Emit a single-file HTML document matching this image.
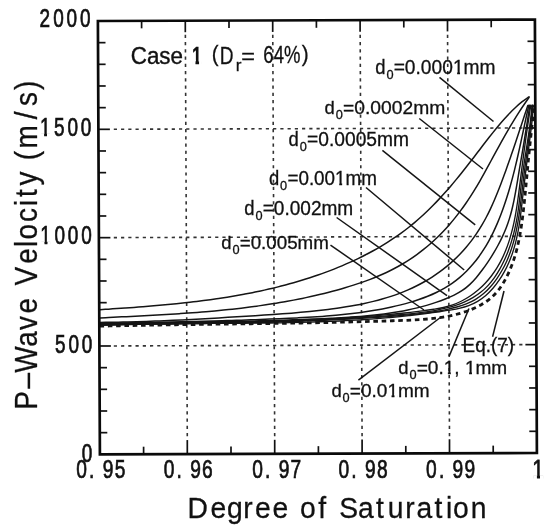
<!DOCTYPE html><html><head><meta charset="utf-8"><title>P-Wave Velocity vs Degree of Saturation</title>
<style>html,body{margin:0;padding:0;background:#fff;}svg{display:block;}text{font-family:"Liberation Sans",Arial,sans-serif;fill:#111;font-kerning:none;white-space:pre;}.title text{stroke:#111;stroke-width:0.3px;}.num text{stroke:#111;stroke-width:0.75px;}.lab text{stroke:#111;stroke-width:0.3px;}</style></head><body>
<svg width="550" height="529" viewBox="0 0 550 529">
<rect width="550" height="529" fill="#fff"/>
<line x1="113.8" y1="129.27" x2="524.4" y2="127.97" stroke="#333" stroke-width="1.6" stroke-dasharray="3.2 4.04" fill="none"/>
<line x1="113.8" y1="237.61" x2="524.9" y2="236.31" stroke="#333" stroke-width="1.6" stroke-dasharray="3.2 4.04" fill="none"/>
<line x1="113.8" y1="345.95" x2="525.4" y2="344.64" stroke="#333" stroke-width="1.6" stroke-dasharray="3.2 4.04" fill="none"/>
<line x1="185.37" y1="34.84" x2="187.3" y2="440.06" stroke="#333" stroke-width="1.6" stroke-dasharray="3.2 4.04" fill="none"/>
<line x1="272.77" y1="34.84" x2="274.7" y2="439.79" stroke="#333" stroke-width="1.6" stroke-dasharray="3.2 4.04" fill="none"/>
<line x1="360.17" y1="34.84" x2="362.1" y2="439.52" stroke="#333" stroke-width="1.6" stroke-dasharray="3.2 4.04" fill="none"/>
<line x1="447.57" y1="34.84" x2="449.5" y2="439.25" stroke="#333" stroke-width="1.6" stroke-dasharray="3.2 4.04" fill="none"/>
<g stroke="#111" stroke-width="1.7" fill="none"><line x1="98" y1="42.65" x2="105.5" y2="42.65"/><line x1="535" y1="41.3" x2="527.5" y2="41.3"/><line x1="98.1" y1="64.32" x2="105.6" y2="64.32"/><line x1="535.1" y1="62.97" x2="527.6" y2="62.97"/><line x1="98.2" y1="85.98" x2="105.7" y2="85.98"/><line x1="535.2" y1="84.63" x2="527.7" y2="84.63"/><line x1="98.3" y1="107.65" x2="105.8" y2="107.65"/><line x1="535.3" y1="106.3" x2="527.8" y2="106.3"/><line x1="98.4" y1="129.32" x2="109.9" y2="129.32"/><line x1="535.4" y1="127.97" x2="524.4" y2="127.97"/><line x1="98.5" y1="150.98" x2="106" y2="150.98"/><line x1="535.5" y1="149.63" x2="528" y2="149.63"/><line x1="98.6" y1="172.65" x2="106.1" y2="172.65"/><line x1="535.6" y1="171.3" x2="528.1" y2="171.3"/><line x1="98.7" y1="194.32" x2="106.2" y2="194.32"/><line x1="535.7" y1="192.97" x2="528.2" y2="192.97"/><line x1="98.8" y1="215.99" x2="106.3" y2="215.99"/><line x1="535.8" y1="214.64" x2="528.3" y2="214.64"/><line x1="98.9" y1="237.66" x2="110.4" y2="237.66"/><line x1="535.9" y1="236.31" x2="524.9" y2="236.31"/><line x1="99" y1="259.32" x2="106.5" y2="259.32"/><line x1="536" y1="257.97" x2="528.5" y2="257.97"/><line x1="99.1" y1="280.99" x2="106.6" y2="280.99"/><line x1="536.1" y1="279.64" x2="528.6" y2="279.64"/><line x1="99.2" y1="302.66" x2="106.7" y2="302.66"/><line x1="536.2" y1="301.31" x2="528.7" y2="301.31"/><line x1="99.3" y1="324.32" x2="106.8" y2="324.32"/><line x1="536.3" y1="322.97" x2="528.8" y2="322.97"/><line x1="99.4" y1="345.99" x2="110.9" y2="345.99"/><line x1="536.4" y1="344.64" x2="525.4" y2="344.64"/><line x1="99.5" y1="367.66" x2="107" y2="367.66"/><line x1="536.5" y1="366.31" x2="529" y2="366.31"/><line x1="99.6" y1="389.33" x2="107.1" y2="389.33"/><line x1="536.6" y1="387.98" x2="529.1" y2="387.98"/><line x1="99.7" y1="411" x2="107.2" y2="411"/><line x1="536.7" y1="409.65" x2="529.2" y2="409.65"/><line x1="99.8" y1="432.66" x2="107.3" y2="432.66"/><line x1="536.8" y1="431.31" x2="529.3" y2="431.31"/><line x1="143.6" y1="454.2" x2="143.6" y2="446.7"/><line x1="141.6" y1="20.84" x2="141.6" y2="28.34"/><line x1="187.3" y1="454.06" x2="187.3" y2="440.06"/><line x1="185.3" y1="20.71" x2="185.3" y2="32.21"/><line x1="231" y1="453.93" x2="231" y2="446.43"/><line x1="229" y1="20.57" x2="229" y2="28.07"/><line x1="274.7" y1="453.79" x2="274.7" y2="439.79"/><line x1="272.7" y1="20.44" x2="272.7" y2="31.94"/><line x1="318.4" y1="453.66" x2="318.4" y2="446.16"/><line x1="316.4" y1="20.3" x2="316.4" y2="27.8"/><line x1="362.1" y1="453.52" x2="362.1" y2="439.52"/><line x1="360.1" y1="20.17" x2="360.1" y2="31.67"/><line x1="405.8" y1="453.39" x2="405.8" y2="445.89"/><line x1="403.8" y1="20.04" x2="403.8" y2="27.54"/><line x1="449.5" y1="453.25" x2="449.5" y2="439.25"/><line x1="447.5" y1="19.9" x2="447.5" y2="31.4"/><line x1="493.2" y1="453.12" x2="493.2" y2="445.62"/><line x1="491.2" y1="19.77" x2="491.2" y2="27.27"/></g>
<g fill="none" stroke="#151515" stroke-width="1.5" stroke-linejoin="round" stroke-linecap="round">
<path d="M100,309.7 C101.41,309.61 105.65,309.33 108.47,309.15 C111.3,308.96 114.12,308.77 116.95,308.58 C119.78,308.39 122.61,308.19 125.44,307.99 C128.27,307.79 131.1,307.59 133.93,307.38 C136.76,307.17 139.6,306.96 142.43,306.74 C145.26,306.51 148.09,306.29 150.93,306.05 C153.76,305.82 156.59,305.58 159.43,305.33 C162.26,305.07 165.09,304.82 167.92,304.55 C170.75,304.28 173.58,304 176.41,303.71 C179.24,303.43 182.07,303.13 184.9,302.82 C187.72,302.51 190.55,302.19 193.37,301.85 C196.19,301.52 199.02,301.18 201.83,300.82 C204.65,300.46 207.47,300.08 210.28,299.7 C213.1,299.31 215.91,298.91 218.72,298.49 C221.53,298.07 224.34,297.64 227.14,297.19 C229.94,296.74 232.74,296.28 235.54,295.79 C238.33,295.31 241.12,294.81 243.91,294.29 C246.7,293.77 249.49,293.24 252.26,292.68 C255.04,292.12 257.82,291.54 260.59,290.95 C263.36,290.35 266.13,289.73 268.89,289.09 C271.65,288.45 274.41,287.79 277.16,287.11 C279.91,286.43 282.66,285.72 285.4,284.99 C288.14,284.26 290.87,283.51 293.6,282.73 C296.33,281.95 299.05,281.15 301.76,280.33 C304.48,279.5 307.19,278.64 309.89,277.76 C312.59,276.88 315.29,275.98 317.98,275.04 C320.67,274.11 323.35,273.15 326.02,272.16 C328.69,271.17 331.36,270.15 334.01,269.1 C336.66,268.05 339.31,266.97 341.94,265.86 C344.56,264.75 347.18,263.62 349.78,262.44 C352.38,261.27 354.97,260.07 357.54,258.83 C360.11,257.6 362.66,256.33 365.19,255.03 C367.72,253.73 370.24,252.39 372.73,251.02 C375.22,249.65 377.69,248.25 380.13,246.8 C382.58,245.36 385,243.89 387.4,242.37 C389.8,240.86 392.17,239.31 394.51,237.72 C396.86,236.13 399.17,234.51 401.46,232.84 C403.74,231.18 406,229.48 408.22,227.73 C410.45,225.99 412.64,224.21 414.8,222.39 C416.96,220.56 419.08,218.7 421.18,216.8 C423.28,214.91 425.34,212.97 427.38,211.01 C429.42,209.05 431.43,207.05 433.42,205.03 C435.4,203.01 437.36,200.95 439.3,198.88 C441.23,196.8 443.14,194.7 445.04,192.57 C446.93,190.45 448.8,188.3 450.65,186.14 C452.5,183.98 454.33,181.8 456.14,179.61 C457.96,177.41 459.76,175.2 461.54,172.98 C463.32,170.76 465.09,168.53 466.84,166.3 C468.6,164.06 470.34,161.81 472.07,159.56 C473.81,157.32 475.53,155.06 477.25,152.81 C478.97,150.56 480.69,148.3 482.41,146.05 C484.14,143.8 485.87,141.55 487.61,139.31 C489.36,137.07 491.11,134.84 492.89,132.61 C494.67,130.39 496.46,128.17 498.29,125.98 C500.12,123.78 501.97,121.59 503.87,119.45 C505.77,117.32 507.69,115.2 509.67,113.16 C511.66,111.11 513.68,109.11 515.76,107.2 C517.85,105.3 519.98,103.45 522.18,101.71 C524.39,99.98 527.86,97.62 528.99,96.8"/>
<path d="M100,317.9 C101.46,317.83 105.85,317.62 108.78,317.48 C111.72,317.34 114.65,317.2 117.58,317.06 C120.52,316.92 123.45,316.78 126.39,316.63 C129.33,316.49 132.27,316.35 135.21,316.2 C138.15,316.06 141.09,315.91 144.04,315.75 C146.98,315.6 149.92,315.45 152.87,315.29 C155.81,315.12 158.76,314.96 161.71,314.79 C164.65,314.62 167.6,314.44 170.55,314.26 C173.49,314.08 176.44,313.89 179.38,313.69 C182.33,313.5 185.28,313.29 188.22,313.08 C191.17,312.87 194.11,312.65 197.06,312.42 C200,312.19 202.95,311.95 205.89,311.7 C208.83,311.45 211.77,311.19 214.71,310.92 C217.65,310.65 220.59,310.37 223.53,310.07 C226.46,309.78 229.4,309.47 232.33,309.15 C235.27,308.83 238.2,308.49 241.13,308.15 C244.05,307.8 246.98,307.44 249.9,307.06 C252.83,306.68 255.75,306.29 258.67,305.88 C261.59,305.47 264.5,305.04 267.41,304.6 C270.33,304.16 273.23,303.7 276.14,303.22 C279.04,302.74 281.95,302.24 284.84,301.73 C287.74,301.21 290.64,300.68 293.53,300.12 C296.42,299.57 299.3,298.99 302.18,298.4 C305.06,297.8 307.94,297.18 310.81,296.54 C313.69,295.9 316.55,295.24 319.42,294.56 C322.28,293.87 325.14,293.17 327.99,292.43 C330.84,291.7 333.69,290.95 336.53,290.16 C339.37,289.38 342.21,288.58 345.03,287.74 C347.86,286.91 350.68,286.05 353.49,285.15 C356.3,284.25 359.1,283.33 361.88,282.36 C364.66,281.39 367.43,280.38 370.18,279.33 C372.92,278.28 375.65,277.18 378.36,276.04 C381.07,274.89 383.75,273.7 386.41,272.45 C389.07,271.2 391.7,269.9 394.31,268.53 C396.91,267.17 399.48,265.75 402.02,264.26 C404.56,262.77 407.07,261.22 409.54,259.6 C412.01,257.99 414.45,256.31 416.84,254.58 C419.23,252.84 421.59,251.05 423.89,249.2 C426.2,247.35 428.47,245.45 430.68,243.5 C432.9,241.55 435.07,239.54 437.19,237.49 C439.31,235.44 441.38,233.34 443.41,231.2 C445.44,229.06 447.42,226.87 449.35,224.65 C451.29,222.43 453.18,220.17 455.02,217.87 C456.87,215.58 458.67,213.24 460.43,210.88 C462.2,208.52 463.91,206.13 465.59,203.71 C467.27,201.29 468.91,198.84 470.51,196.37 C472.11,193.91 473.67,191.41 475.2,188.9 C476.73,186.4 478.22,183.86 479.69,181.32 C481.16,178.78 482.59,176.22 484.02,173.66 C485.45,171.09 486.85,168.51 488.25,165.93 C489.66,163.34 491.05,160.75 492.45,158.16 C493.86,155.57 495.26,152.97 496.68,150.38 C498.09,147.79 499.52,145.19 500.96,142.61 C502.4,140.03 503.85,137.45 505.32,134.88 C506.79,132.31 508.27,129.75 509.77,127.2 C511.28,124.66 512.8,122.13 514.35,119.62 C515.9,117.1 517.47,114.61 519.06,112.14 C520.66,109.67 522.29,107.21 523.94,104.79 C525.6,102.37 528.16,98.8 529,97.6"/>
<path d="M100,322.4 C101.53,322.39 106.13,322.35 109.19,322.31 C112.25,322.27 115.31,322.23 118.37,322.17 C121.43,322.11 124.48,322.05 127.54,321.97 C130.59,321.9 133.64,321.82 136.7,321.73 C139.75,321.64 142.8,321.54 145.84,321.44 C148.89,321.34 151.94,321.23 154.98,321.11 C158.03,320.99 161.07,320.87 164.12,320.74 C167.16,320.61 170.2,320.48 173.24,320.34 C176.28,320.2 179.32,320.05 182.36,319.9 C185.4,319.75 188.44,319.6 191.47,319.44 C194.51,319.28 197.55,319.12 200.58,318.95 C203.62,318.78 206.65,318.61 209.68,318.44 C212.72,318.27 215.75,318.09 218.78,317.91 C221.82,317.73 224.85,317.55 227.88,317.37 C230.91,317.18 233.94,317 236.97,316.81 C240,316.62 243.03,316.44 246.06,316.25 C249.09,316.06 252.12,315.87 255.15,315.68 C258.18,315.49 261.21,315.3 264.24,315.1 C267.27,314.9 270.3,314.7 273.33,314.49 C276.36,314.28 279.39,314.07 282.42,313.84 C285.45,313.61 288.48,313.38 291.52,313.13 C294.55,312.88 297.58,312.62 300.61,312.35 C303.64,312.07 306.67,311.78 309.71,311.47 C312.74,311.16 315.77,310.84 318.81,310.5 C321.84,310.15 324.87,309.79 327.91,309.4 C330.95,309.01 333.98,308.6 337.02,308.17 C340.06,307.73 343.1,307.27 346.13,306.78 C349.17,306.29 352.21,305.78 355.23,305.22 C358.26,304.66 361.28,304.07 364.29,303.43 C367.3,302.79 370.3,302.12 373.29,301.39 C376.27,300.66 379.24,299.89 382.19,299.05 C385.13,298.21 388.06,297.33 390.96,296.38 C393.87,295.42 396.75,294.42 399.6,293.33 C402.44,292.25 405.27,291.1 408.05,289.88 C410.84,288.66 413.59,287.38 416.31,286.02 C419.02,284.66 421.7,283.23 424.33,281.74 C426.96,280.24 429.56,278.67 432.1,277.04 C434.65,275.4 437.15,273.69 439.59,271.92 C442.03,270.14 444.43,268.29 446.77,266.38 C449.1,264.46 451.39,262.47 453.61,260.41 C455.83,258.35 457.99,256.22 460.09,254.03 C462.18,251.83 464.22,249.57 466.18,247.25 C468.15,244.94 470.05,242.55 471.88,240.13 C473.7,237.7 475.47,235.21 477.15,232.68 C478.84,230.15 480.45,227.57 481.99,224.96 C483.53,222.34 484.99,219.68 486.4,216.99 C487.81,214.3 489.15,211.57 490.45,208.82 C491.75,206.07 492.99,203.28 494.2,200.48 C495.41,197.67 496.57,194.84 497.71,192 C498.85,189.16 499.95,186.3 501.04,183.43 C502.13,180.56 503.2,177.68 504.26,174.79 C505.31,171.91 506.36,169.01 507.39,166.12 C508.42,163.22 509.43,160.32 510.44,157.42 C511.45,154.52 512.44,151.61 513.43,148.71 C514.42,145.8 515.39,142.9 516.37,140 C517.34,137.1 518.3,134.2 519.26,131.31 C520.22,128.42 521.17,125.53 522.12,122.66 C523.07,119.78 524.02,116.91 524.96,114.05 C525.91,111.19 527.33,106.93 527.8,105.5"/>
<path d="M100,323.4 C101.55,323.38 106.18,323.31 109.28,323.26 C112.37,323.21 115.47,323.16 118.58,323.11 C121.69,323.05 124.8,323 127.91,322.95 C131.03,322.89 134.15,322.84 137.27,322.78 C140.39,322.72 143.52,322.66 146.65,322.6 C149.78,322.54 152.92,322.48 156.05,322.41 C159.19,322.35 162.33,322.28 165.48,322.21 C168.62,322.14 171.77,322.07 174.92,322 C178.06,321.93 181.22,321.85 184.37,321.78 C187.52,321.7 190.68,321.62 193.84,321.54 C196.99,321.46 200.15,321.38 203.31,321.29 C206.47,321.2 209.63,321.12 212.8,321.02 C215.96,320.93 219.12,320.84 222.29,320.74 C225.45,320.65 228.62,320.55 231.78,320.45 C234.95,320.35 238.11,320.24 241.28,320.13 C244.44,320.03 247.61,319.92 250.77,319.8 C253.93,319.69 257.1,319.57 260.26,319.45 C263.42,319.33 266.59,319.21 269.75,319.08 C272.91,318.96 276.07,318.83 279.22,318.7 C282.38,318.56 285.54,318.43 288.69,318.29 C291.85,318.14 295,318 298.15,317.84 C301.3,317.68 304.45,317.52 307.59,317.33 C310.73,317.15 313.88,316.96 317.02,316.76 C320.15,316.55 323.29,316.32 326.42,316.08 C329.55,315.84 332.68,315.58 335.81,315.29 C338.93,315.01 342.05,314.71 345.17,314.37 C348.29,314.04 351.4,313.69 354.51,313.3 C357.62,312.92 360.72,312.5 363.82,312.05 C366.92,311.61 370.01,311.13 373.1,310.61 C376.18,310.09 379.27,309.54 382.34,308.94 C385.42,308.35 388.49,307.72 391.56,307.04 C394.62,306.36 397.68,305.64 400.73,304.87 C403.78,304.09 406.84,303.28 409.86,302.4 C412.88,301.52 415.9,300.58 418.87,299.56 C421.84,298.55 424.8,297.47 427.7,296.29 C430.6,295.11 433.47,293.86 436.28,292.49 C439.09,291.13 441.85,289.68 444.54,288.11 C447.23,286.53 449.86,284.85 452.41,283.05 C454.96,281.25 457.44,279.33 459.83,277.32 C462.21,275.31 464.51,273.18 466.72,270.98 C468.92,268.77 471.02,266.46 473.04,264.09 C475.05,261.71 476.97,259.24 478.81,256.72 C480.65,254.19 482.4,251.58 484.08,248.92 C485.76,246.26 487.35,243.54 488.88,240.77 C490.4,238 491.85,235.17 493.24,232.32 C494.63,229.46 495.94,226.55 497.2,223.63 C498.46,220.7 499.66,217.74 500.8,214.77 C501.95,211.79 503.03,208.79 504.07,205.79 C505.11,202.79 506.1,199.77 507.05,196.76 C508,193.75 508.91,190.74 509.78,187.72 C510.65,184.7 511.48,181.69 512.29,178.66 C513.09,175.64 513.86,172.62 514.61,169.59 C515.36,166.56 516.08,163.53 516.79,160.49 C517.49,157.46 518.18,154.42 518.85,151.38 C519.53,148.33 520.19,145.28 520.85,142.23 C521.51,139.17 522.15,136.12 522.8,133.05 C523.45,129.99 524.1,126.92 524.75,123.84 C525.41,120.76 526.07,117.68 526.74,114.59 C527.42,111.5 528.46,106.85 528.8,105.3"/>
<path d="M100,324 C101.59,323.95 106.38,323.8 109.57,323.7 C112.76,323.61 115.96,323.52 119.15,323.44 C122.35,323.35 125.55,323.27 128.75,323.2 C131.95,323.12 135.16,323.05 138.37,322.98 C141.57,322.91 144.78,322.85 147.99,322.78 C151.2,322.72 154.42,322.66 157.63,322.6 C160.85,322.55 164.06,322.49 167.28,322.44 C170.5,322.38 173.72,322.33 176.94,322.28 C180.16,322.23 183.38,322.18 186.6,322.13 C189.82,322.08 193.05,322.03 196.27,321.98 C199.5,321.93 202.72,321.88 205.95,321.83 C209.17,321.77 212.4,321.72 215.62,321.67 C218.85,321.62 222.08,321.56 225.3,321.51 C228.53,321.45 231.76,321.39 234.98,321.33 C238.21,321.27 241.44,321.21 244.66,321.14 C247.89,321.08 251.12,321.01 254.34,320.93 C257.57,320.86 260.79,320.79 264.02,320.7 C267.24,320.62 270.46,320.54 273.68,320.45 C276.91,320.36 280.13,320.27 283.35,320.17 C286.57,320.07 289.78,319.96 293,319.85 C296.22,319.74 299.43,319.62 302.65,319.5 C305.86,319.37 309.07,319.24 312.28,319.11 C315.49,318.97 318.7,318.83 321.91,318.67 C325.11,318.52 328.32,318.36 331.52,318.19 C334.72,318.03 337.92,317.85 341.11,317.67 C344.31,317.48 347.5,317.29 350.69,317.07 C353.88,316.86 357.07,316.64 360.26,316.39 C363.44,316.13 366.62,315.86 369.8,315.56 C372.98,315.25 376.16,314.92 379.33,314.55 C382.5,314.18 385.67,313.77 388.83,313.32 C391.99,312.87 395.15,312.37 398.31,311.83 C401.47,311.28 404.62,310.69 407.77,310.03 C410.92,309.37 414.06,308.66 417.2,307.89 C420.34,307.11 423.47,306.27 426.6,305.36 C429.73,304.44 432.87,303.46 435.98,302.4 C439.09,301.34 442.22,300.2 445.24,298.99 C448.27,297.78 451.27,296.54 454.12,295.12 C456.96,293.71 459.73,292.24 462.31,290.49 C464.9,288.73 467.31,286.73 469.62,284.59 C471.94,282.45 474.09,280.08 476.19,277.66 C478.29,275.24 480.27,272.66 482.21,270.07 C484.15,267.48 486.03,264.83 487.84,262.14 C489.65,259.45 491.4,256.71 493.08,253.93 C494.76,251.15 496.38,248.33 497.91,245.48 C499.45,242.62 500.93,239.73 502.3,236.81 C503.67,233.88 504.98,230.92 506.15,227.94 C507.33,224.95 508.38,221.94 509.33,218.9 C510.29,215.86 511.11,212.79 511.89,209.71 C512.66,206.63 513.33,203.52 513.97,200.4 C514.62,197.28 515.18,194.14 515.75,191 C516.32,187.85 516.84,184.69 517.37,181.52 C517.91,178.35 518.44,175.17 518.98,171.99 C519.52,168.81 520.06,165.62 520.6,162.43 C521.14,159.24 521.68,156.05 522.22,152.85 C522.75,149.66 523.29,146.46 523.82,143.27 C524.35,140.08 524.87,136.89 525.39,133.7 C525.91,130.51 526.42,127.33 526.92,124.16 C527.42,120.98 527.92,117.81 528.4,114.65 C528.87,111.49 529.57,106.78 529.8,105.2"/>
<path d="M100,324.4 C101.65,324.35 106.6,324.21 109.89,324.12 C113.19,324.03 116.48,323.95 119.77,323.87 C123.06,323.79 126.35,323.72 129.64,323.65 C132.92,323.58 136.21,323.51 139.49,323.45 C142.77,323.39 146.05,323.33 149.33,323.27 C152.61,323.21 155.89,323.16 159.16,323.11 C162.44,323.06 165.71,323.01 168.98,322.96 C172.25,322.91 175.53,322.87 178.79,322.82 C182.06,322.78 185.33,322.73 188.6,322.69 C191.87,322.64 195.13,322.6 198.4,322.55 C201.66,322.51 204.93,322.46 208.19,322.41 C211.45,322.37 214.72,322.32 217.98,322.27 C221.24,322.22 224.5,322.17 227.76,322.11 C231.02,322.06 234.29,322 237.55,321.94 C240.81,321.88 244.07,321.82 247.33,321.76 C250.59,321.69 253.85,321.62 257.11,321.54 C260.37,321.47 263.63,321.39 266.89,321.31 C270.15,321.22 273.41,321.13 276.67,321.04 C279.93,320.94 283.19,320.84 286.46,320.73 C289.72,320.63 292.98,320.51 296.24,320.39 C299.51,320.27 302.77,320.14 306.04,320.01 C309.3,319.87 312.57,319.73 315.84,319.58 C319.1,319.43 322.37,319.27 325.64,319.1 C328.91,318.93 332.18,318.75 335.45,318.57 C338.73,318.38 342,318.18 345.28,317.97 C348.55,317.77 351.83,317.55 355.11,317.32 C358.39,317.09 361.67,316.85 364.95,316.6 C368.23,316.35 371.52,316.09 374.8,315.81 C378.09,315.54 381.38,315.25 384.67,314.95 C387.96,314.65 391.26,314.34 394.55,314.01 C397.85,313.69 401.15,313.35 404.45,312.99 C407.74,312.63 411.04,312.27 414.33,311.88 C417.61,311.48 420.89,311.08 424.15,310.64 C427.4,310.21 430.64,309.79 433.85,309.27 C437.05,308.75 440.24,308.25 443.38,307.52 C446.51,306.79 449.63,305.96 452.67,304.87 C455.72,303.79 458.74,302.49 461.65,301.01 C464.57,299.54 467.43,297.85 470.17,296.03 C472.91,294.21 475.56,292.2 478.07,290.07 C480.58,287.94 482.97,285.65 485.21,283.26 C487.46,280.87 489.57,278.34 491.55,275.74 C493.53,273.14 495.37,270.43 497.08,267.66 C498.78,264.89 500.35,262.04 501.8,259.14 C503.24,256.24 504.55,253.27 505.76,250.27 C506.98,247.26 508.06,244.2 509.07,241.1 C510.07,238 510.97,234.86 511.8,231.69 C512.63,228.52 513.36,225.31 514.05,222.08 C514.73,218.86 515.33,215.61 515.9,212.34 C516.47,209.08 516.97,205.8 517.45,202.52 C517.93,199.24 518.37,195.95 518.8,192.67 C519.23,189.38 519.63,186.1 520.03,182.83 C520.44,179.57 520.84,176.31 521.25,173.07 C521.66,169.83 522.07,166.6 522.48,163.38 C522.9,160.16 523.32,156.95 523.75,153.74 C524.17,150.53 524.61,147.32 525.05,144.11 C525.49,140.9 525.94,137.69 526.39,134.47 C526.85,131.25 527.32,128.03 527.8,124.79 C528.27,121.55 528.76,118.31 529.26,115.04 C529.76,111.78 530.54,106.84 530.8,105.2" stroke-width="1.35"/>
<path d="M100,324.8 C101.65,324.77 106.62,324.66 109.92,324.6 C113.23,324.53 116.53,324.47 119.84,324.41 C123.14,324.35 126.44,324.3 129.75,324.24 C133.05,324.18 136.35,324.13 139.65,324.08 C142.95,324.03 146.25,323.98 149.54,323.92 C152.84,323.87 156.14,323.83 159.44,323.78 C162.73,323.73 166.03,323.68 169.32,323.63 C172.62,323.58 175.91,323.53 179.2,323.49 C182.49,323.44 185.79,323.39 189.08,323.34 C192.37,323.29 195.66,323.24 198.95,323.18 C202.24,323.13 205.53,323.08 208.82,323.02 C212.11,322.97 215.4,322.91 218.69,322.85 C221.98,322.79 225.27,322.73 228.56,322.67 C231.84,322.6 235.13,322.54 238.42,322.47 C241.71,322.4 245,322.33 248.28,322.25 C251.57,322.18 254.86,322.1 258.15,322.01 C261.43,321.93 264.72,321.84 268.01,321.75 C271.3,321.66 274.58,321.56 277.87,321.46 C281.16,321.36 284.45,321.26 287.74,321.15 C291.02,321.04 294.31,320.92 297.6,320.8 C300.89,320.68 304.18,320.55 307.47,320.42 C310.76,320.29 314.05,320.15 317.34,320 C320.63,319.86 323.92,319.71 327.21,319.55 C330.5,319.39 333.79,319.22 337.09,319.05 C340.38,318.87 343.67,318.69 346.97,318.51 C350.26,318.32 353.56,318.12 356.85,317.92 C360.15,317.71 363.44,317.5 366.74,317.28 C370.04,317.06 373.34,316.83 376.64,316.59 C379.94,316.35 383.24,316.1 386.54,315.84 C389.84,315.58 393.14,315.32 396.44,315.04 C399.75,314.76 403.05,314.48 406.36,314.17 C409.66,313.86 412.96,313.55 416.25,313.17 C419.54,312.79 422.83,312.4 426.1,311.92 C429.36,311.44 432.62,310.92 435.85,310.3 C439.09,309.69 442.31,309.01 445.49,308.21 C448.68,307.41 451.85,306.54 454.96,305.52 C458.08,304.49 461.17,303.38 464.16,302.07 C467.14,300.76 470.09,299.32 472.88,297.66 C475.68,296 478.4,294.15 480.95,292.09 C483.49,290.04 485.91,287.75 488.15,285.34 C490.4,282.92 492.47,280.29 494.41,277.59 C496.34,274.89 498.1,272.03 499.75,269.15 C501.39,266.26 502.89,263.28 504.29,260.29 C505.69,257.3 506.96,254.25 508.13,251.18 C509.31,248.11 510.37,245 511.34,241.87 C512.32,238.73 513.19,235.56 513.99,232.38 C514.79,229.19 515.49,225.97 516.13,222.74 C516.76,219.52 517.3,216.26 517.8,213.01 C518.3,209.75 518.71,206.47 519.12,203.2 C519.54,199.92 519.89,196.64 520.26,193.35 C520.64,190.07 520.99,186.78 521.38,183.51 C521.78,180.23 522.2,176.96 522.64,173.69 C523.08,170.42 523.57,167.16 524.05,163.91 C524.54,160.65 525.05,157.4 525.56,154.15 C526.06,150.9 526.58,147.65 527.08,144.4 C527.58,141.15 528.09,137.9 528.56,134.64 C529.03,131.39 529.5,128.13 529.92,124.87 C530.34,121.6 530.74,118.34 531.09,115.06 C531.44,111.78 531.85,106.84 532,105.2" stroke-width="1.35"/>
<path d="M100,325.1 C101.64,325.07 106.57,324.96 109.86,324.9 C113.14,324.83 116.43,324.77 119.73,324.71 C123.02,324.66 126.32,324.6 129.62,324.55 C132.92,324.49 136.22,324.44 139.52,324.39 C142.83,324.34 146.13,324.29 149.44,324.24 C152.75,324.19 156.06,324.14 159.37,324.1 C162.69,324.05 166,324.01 169.32,323.96 C172.63,323.91 175.95,323.87 179.27,323.82 C182.59,323.78 185.91,323.73 189.23,323.68 C192.56,323.64 195.88,323.59 199.2,323.54 C202.53,323.49 205.85,323.44 209.18,323.39 C212.51,323.34 215.83,323.29 219.16,323.23 C222.49,323.18 225.82,323.12 229.15,323.06 C232.48,323.01 235.81,322.94 239.13,322.88 C242.46,322.82 245.79,322.75 249.12,322.68 C252.45,322.61 255.78,322.53 259.11,322.46 C262.44,322.38 265.77,322.3 269.1,322.21 C272.43,322.12 275.76,322.03 279.08,321.94 C282.41,321.85 285.74,321.75 289.07,321.64 C292.39,321.54 295.72,321.43 299.04,321.31 C302.36,321.2 305.69,321.08 309.01,320.95 C312.33,320.83 315.65,320.69 318.97,320.55 C322.29,320.42 325.61,320.27 328.92,320.12 C332.24,319.97 335.55,319.81 338.86,319.64 C342.17,319.48 345.48,319.3 348.79,319.12 C352.1,318.94 355.4,318.75 358.71,318.55 C362.01,318.36 365.31,318.15 368.61,317.94 C371.91,317.72 375.2,317.5 378.49,317.27 C381.79,317.04 385.08,316.8 388.36,316.55 C391.65,316.3 394.93,316.04 398.21,315.77 C401.49,315.5 404.77,315.23 408.04,314.92 C411.32,314.62 414.59,314.31 417.85,313.95 C421.12,313.59 424.38,313.2 427.64,312.75 C430.9,312.3 434.16,311.82 437.41,311.26 C440.66,310.69 443.91,310.08 447.15,309.37 C450.38,308.65 453.65,307.9 456.84,306.98 C460.03,306.06 463.23,305.07 466.3,303.83 C469.36,302.6 472.39,301.24 475.23,299.57 C478.07,297.91 480.81,295.99 483.35,293.85 C485.9,291.7 488.27,289.22 490.5,286.7 C492.73,284.19 494.8,281.5 496.73,278.77 C498.66,276.03 500.44,273.17 502.09,270.28 C503.73,267.39 505.22,264.41 506.58,261.41 C507.95,258.41 509.16,255.35 510.28,252.27 C511.4,249.18 512.38,246.06 513.28,242.9 C514.18,239.75 514.97,236.56 515.7,233.34 C516.43,230.13 517.06,226.89 517.64,223.64 C518.23,220.38 518.74,217.1 519.22,213.82 C519.7,210.53 520.12,207.23 520.54,203.92 C520.96,200.62 521.33,197.3 521.72,193.99 C522.1,190.68 522.46,187.36 522.85,184.06 C523.24,180.76 523.64,177.46 524.06,174.17 C524.48,170.88 524.92,167.6 525.36,164.32 C525.79,161.04 526.25,157.77 526.7,154.5 C527.14,151.23 527.6,147.96 528.04,144.69 C528.48,141.42 528.92,138.15 529.33,134.87 C529.75,131.6 530.16,128.32 530.54,125.03 C530.92,121.74 531.28,118.45 531.61,115.15 C531.94,111.84 532.35,106.86 532.5,105.2" stroke-width="1.35"/>
<path d="M100,325.4 C101.66,325.34 106.62,325.13 109.93,325.01 C113.24,324.89 116.56,324.78 119.87,324.68 C123.19,324.58 126.51,324.49 129.83,324.41 C133.15,324.32 136.47,324.25 139.8,324.18 C143.12,324.11 146.45,324.05 149.78,323.99 C153.11,323.93 156.44,323.88 159.77,323.84 C163.1,323.79 166.44,323.75 169.77,323.72 C173.11,323.68 176.44,323.65 179.78,323.62 C183.12,323.59 186.45,323.57 189.79,323.54 C193.13,323.52 196.47,323.5 199.82,323.48 C203.16,323.46 206.5,323.44 209.84,323.42 C213.19,323.41 216.53,323.39 219.87,323.37 C223.22,323.35 226.56,323.34 229.91,323.32 C233.25,323.3 236.6,323.28 239.94,323.25 C243.29,323.23 246.63,323.21 249.98,323.18 C253.32,323.15 256.67,323.12 260.02,323.08 C263.36,323.04 266.71,323 270.05,322.96 C273.4,322.91 276.74,322.86 280.08,322.81 C283.43,322.75 286.77,322.69 290.11,322.62 C293.46,322.55 296.8,322.47 300.14,322.39 C303.48,322.31 306.82,322.21 310.16,322.11 C313.5,322.01 316.84,321.9 320.18,321.78 C323.51,321.66 326.85,321.54 330.18,321.4 C333.52,321.26 336.85,321.11 340.18,320.95 C343.51,320.78 346.84,320.61 350.17,320.42 C353.5,320.24 356.83,320.04 360.15,319.83 C363.47,319.62 366.8,319.39 370.12,319.15 C373.44,318.91 376.76,318.66 380.07,318.39 C383.39,318.12 386.7,317.84 390.01,317.54 C393.33,317.24 396.64,316.92 399.94,316.59 C403.25,316.25 406.55,315.9 409.85,315.54 C413.15,315.17 416.45,314.78 419.75,314.37 C423.04,313.97 426.34,313.54 429.62,313.1 C432.91,312.66 436.2,312.19 439.48,311.71 C442.77,311.22 446.05,310.74 449.32,310.19 C452.59,309.64 455.89,309.17 459.1,308.41 C462.32,307.66 465.53,306.84 468.62,305.67 C471.7,304.5 474.74,303.09 477.6,301.39 C480.46,299.7 483.22,297.68 485.79,295.49 C488.35,293.31 490.74,290.83 492.97,288.28 C495.2,285.73 497.25,282.97 499.15,280.19 C501.05,277.41 502.78,274.53 504.39,271.61 C505.99,268.69 507.43,265.71 508.76,262.67 C510.09,259.64 511.27,256.55 512.35,253.43 C513.44,250.3 514.39,247.13 515.25,243.93 C516.11,240.73 516.85,237.48 517.52,234.22 C518.19,230.97 518.75,227.67 519.28,224.38 C519.8,221.08 520.23,217.75 520.66,214.43 C521.09,211.11 521.46,207.78 521.85,204.45 C522.23,201.13 522.6,197.8 522.98,194.49 C523.37,191.17 523.76,187.86 524.15,184.55 C524.54,181.24 524.94,177.94 525.34,174.64 C525.75,171.34 526.15,168.04 526.56,164.75 C526.97,161.45 527.39,158.16 527.81,154.86 C528.22,151.56 528.64,148.27 529.07,144.97 C529.49,141.67 529.92,138.37 530.34,135.07 C530.77,131.76 531.22,128.46 531.6,125.14 C531.98,121.83 532.36,118.52 532.63,115.19 C532.9,111.87 533.11,106.87 533.2,105.2" stroke-width="1.35"/>
</g>
<path d="M99.5,326.2 C101.19,326.16 106.28,326.04 109.67,325.96 C113.06,325.89 116.44,325.81 119.83,325.74 C123.21,325.67 126.59,325.6 129.97,325.54 C133.35,325.47 136.73,325.41 140.1,325.35 C143.48,325.29 146.85,325.23 150.22,325.17 C153.6,325.11 156.97,325.06 160.34,325 C163.71,324.95 167.07,324.9 170.44,324.85 C173.81,324.79 177.17,324.74 180.54,324.7 C183.9,324.65 187.27,324.6 190.63,324.55 C193.99,324.51 197.35,324.46 200.71,324.42 C204.07,324.37 207.43,324.33 210.79,324.28 C214.15,324.24 217.51,324.19 220.87,324.15 C224.23,324.11 227.58,324.06 230.94,324.02 C234.3,323.98 237.66,323.93 241.01,323.89 C244.37,323.84 247.73,323.8 251.09,323.75 C254.44,323.71 257.8,323.66 261.16,323.61 C264.52,323.57 267.87,323.52 271.23,323.47 C274.59,323.42 277.95,323.37 281.31,323.32 C284.67,323.27 288.03,323.21 291.39,323.16 C294.75,323.1 298.11,323.05 301.47,322.99 C304.83,322.93 308.2,322.87 311.56,322.81 C314.92,322.75 318.29,322.68 321.66,322.62 C325.02,322.55 328.39,322.48 331.76,322.41 C335.13,322.34 338.5,322.26 341.87,322.18 C345.24,322.11 348.62,322.03 351.99,321.94 C355.37,321.86 358.74,321.77 362.12,321.68 C365.5,321.59 368.88,321.5 372.26,321.4 C375.65,321.3 379.03,321.2 382.42,321.1 C385.81,320.99 389.2,320.88 392.59,320.77 C395.98,320.66 399.37,320.55 402.77,320.42 C406.16,320.29 409.56,320.17 412.96,320 C416.35,319.83 419.74,319.65 423.11,319.39 C426.49,319.14 429.86,318.85 433.21,318.47 C436.55,318.09 439.89,317.66 443.2,317.11 C446.51,316.56 449.8,315.94 453.06,315.18 C456.32,314.42 459.56,313.57 462.76,312.56 C465.96,311.55 469.15,310.43 472.24,309.11 C475.32,307.8 478.39,306.35 481.28,304.68 C484.16,303.01 486.97,301.18 489.54,299.09 C492.11,297 494.51,294.68 496.69,292.17 C498.88,289.65 500.83,286.87 502.64,284.02 C504.45,281.18 506.06,278.14 507.55,275.1 C509.04,272.07 510.36,268.95 511.58,265.81 C512.8,262.66 513.87,259.47 514.86,256.26 C515.84,253.04 516.71,249.78 517.5,246.5 C518.29,243.23 518.97,239.92 519.61,236.6 C520.24,233.28 520.78,229.93 521.3,226.59 C521.81,223.24 522.25,219.88 522.68,216.52 C523.1,213.16 523.48,209.8 523.86,206.44 C524.23,203.09 524.58,199.74 524.92,196.39 C525.26,193.04 525.58,189.69 525.9,186.35 C526.23,183 526.53,179.66 526.85,176.32 C527.16,172.98 527.46,169.64 527.78,166.3 C528.1,162.95 528.41,159.62 528.74,156.27 C529.07,152.93 529.41,149.59 529.77,146.25 C530.12,142.9 530.51,139.56 530.88,136.21 C531.25,132.87 531.64,129.52 531.99,126.16 C532.34,122.81 532.7,119.45 533,116.09 C533.3,112.73 533.67,107.68 533.8,106" fill="none" stroke="#151515" stroke-width="2.8" stroke-dasharray="4.6 3.7"/>
<g stroke="#151515" stroke-width="1.5" fill="none"><line x1="439.5" y1="77.4" x2="493.5" y2="121.5"/><line x1="419.3" y1="118.5" x2="483" y2="169"/><line x1="382.4" y1="150.3" x2="475.2" y2="224.8"/><line x1="366" y1="187.5" x2="464.2" y2="270"/><line x1="336.6" y1="217.5" x2="447" y2="295.6"/><line x1="330.5" y1="245.1" x2="424" y2="310"/><line x1="358.4" y1="380.2" x2="441" y2="317"/><line x1="449" y1="356.6" x2="469" y2="308.5"/><line x1="492.6" y1="336.7" x2="504" y2="291"/></g>
<path d="M97.9,20.98 L534.9,19.63 L536.9,452.98 L99.9,454.33 Z" fill="none" stroke="#0a0a0a" stroke-width="2.7" stroke-linejoin="miter"/>
<g class="num">
<text transform="scale(0.72,1)" x="54.92 73.83 92.44 111.05" y="27.05" font-size="26.35">2000</text>
<clipPath id="nb1"><rect x="29.95" y="83.64" width="103.61" height="49.54"/><rect x="29.95" y="133.18" width="10.65" height="26.35"/><rect x="44.13" y="133.18" width="2.88" height="26.35"/><rect x="50.38" y="133.18" width="83.18" height="26.35"/></clipPath>
<g clip-path="url(#nb1)"><text transform="scale(0.72,1)" x="55.49 75.06 93.69 112.3" y="136.35" font-size="26.35">1500</text></g>
<clipPath id="nb2"><rect x="30.35" y="191.64" width="103.61" height="49.54"/><rect x="30.35" y="241.18" width="10.65" height="26.35"/><rect x="44.53" y="241.18" width="2.88" height="26.35"/><rect x="50.78" y="241.18" width="83.18" height="26.35"/></clipPath>
<g clip-path="url(#nb2)"><text transform="scale(0.72,1)" x="56.05 75.64 94.25 112.86" y="244.35" font-size="26.35">1000</text></g>
<text transform="scale(0.72,1)" x="76.44 95.08 113.69" y="353.25" font-size="26.35">500</text>
<text transform="scale(0.72,1)" x="113.42" y="461.55" font-size="26.35">0</text>
<text transform="scale(0.72,1)" x="105.76 123.68 142.64 159.49" y="478.34" font-size="26.64">0.95</text>
<text transform="scale(0.72,1)" x="227.29 245.21 264.17 280.73" y="478.34" font-size="26.64">0.96</text>
<text transform="scale(0.72,1)" x="350.21 368.12 387.08 403.63" y="478.34" font-size="26.64">0.97</text>
<text transform="scale(0.72,1)" x="470.07 487.98 506.95 523.7" y="478.34" font-size="26.64">0.98</text>
<text transform="scale(0.72,1)" x="591.74 609.65 628.61 645.28" y="478.34" font-size="26.64">0.99</text>
<clipPath id="nb3"><rect x="522.32" y="425.07" width="63.28" height="50.09"/><rect x="522.32" y="475.15" width="10.78" height="26.64"/><rect x="536.94" y="475.15" width="3.04" height="26.64"/><rect x="543.66" y="475.15" width="41.94" height="26.64"/></clipPath>
<g clip-path="url(#nb3)"><text transform="scale(0.78,1)" x="682.46" y="478.34" font-size="26.64">1</text></g>
</g>
<g class="title">
<text transform="scale(0.93,1)" x="201.51 226.41 244.09 261.44 274.26 293.03 309.93 322.46 342.31 350.76 364.76 385.04 404.42 417 435.85 447.78 467.27 479.64 487.14 506.31" y="517.9" font-size="30.4">Degree of Saturation</text>
<g transform="rotate(-90)">
<text transform="scale(0.9,1)" x="-455.24 -431.61 -414.09 -385.33 -366.69 -348.42 -331.18 -317.34 -293.03 -274.34 -266.06 -246.67 -228.77 -218.87 -206.04 -190.54 -178.03 -164.92 -132.47 -117.79 -100.01" y="37.3" font-size="31">P–Wave Velocity (m/s)</text>
</g></g>
<g class="lab">
<text x="130.76" y="63.8" font-size="23.55" textLength="52.23" lengthAdjust="spacingAndGlyphs" style="stroke-width:0.4px">Case</text>
<clipPath id="nb4"><rect x="182.09" y="16.12" width="57.68" height="44.04"/><rect x="182.09" y="60.17" width="10.28" height="23.84"/><rect x="195.5" y="60.17" width="3.55" height="23.84"/><rect x="201.96" y="60.17" width="37.81" height="23.84"/></clipPath>
<text x="192.09" y="63.8" font-size="23.84" textLength="9.55" lengthAdjust="spacingAndGlyphs" font-weight="bold" clip-path="url(#nb4)">1</text>
<text x="211.64" y="61" font-size="22.53" textLength="6.78" lengthAdjust="spacingAndGlyphs">(</text>
<text x="219.63" y="64" font-size="23.98" textLength="13.78" lengthAdjust="spacingAndGlyphs">D</text>
<text x="235.86" y="70.7" font-size="17.1" textLength="5.73" lengthAdjust="spacingAndGlyphs">r</text>
<text x="241.25" y="64" font-size="21.5" textLength="13.7" lengthAdjust="spacingAndGlyphs">=</text>
<text x="263.36" y="63.4" font-size="23.84" textLength="37" lengthAdjust="spacingAndGlyphs">64%</text>
<text x="301.78" y="61" font-size="22.53" textLength="6.91" lengthAdjust="spacingAndGlyphs">)</text>
<clipPath id="nb5"><rect x="383.66" y="33.69" width="136.22" height="37.6"/><rect x="383.66" y="71.29" width="69.91" height="20.15"/><rect x="457.14" y="71.29" width="2.9" height="20.15"/><rect x="463.45" y="71.29" width="56.43" height="20.15"/></clipPath>
<text x="375.22" y="74" font-size="20.15" textLength="10.26" lengthAdjust="spacingAndGlyphs">d</text><text x="386.4" y="78.9" font-size="13.28" textLength="7.1" lengthAdjust="spacingAndGlyphs">0</text><text x="393.66" y="74" font-size="20.15" textLength="101.9" lengthAdjust="spacingAndGlyphs" clip-path="url(#nb5)">=0.0001mm</text>
<text x="324.62" y="114.2" font-size="19.2" textLength="10.26" lengthAdjust="spacingAndGlyphs">d</text><text x="335.8" y="119.1" font-size="13.28" textLength="7.1" lengthAdjust="spacingAndGlyphs">0</text><text x="343.06" y="114.2" font-size="19.2" textLength="102.21" lengthAdjust="spacingAndGlyphs">=0.0002mm</text>
<text x="288.62" y="145.8" font-size="19.47" textLength="10.26" lengthAdjust="spacingAndGlyphs">d</text><text x="299.8" y="150.7" font-size="13.28" textLength="7.1" lengthAdjust="spacingAndGlyphs">0</text><text x="307.06" y="145.8" font-size="19.47" textLength="102" lengthAdjust="spacingAndGlyphs">=0.0005mm</text>
<clipPath id="nb6"><rect x="277.38" y="146.18" width="123.17" height="36.55"/><rect x="277.38" y="182.74" width="58.38" height="19.61"/><rect x="339.26" y="182.74" width="2.87" height="19.61"/><rect x="345.49" y="182.74" width="55.05" height="19.61"/></clipPath>
<text x="268.92" y="185.4" font-size="19.61" textLength="10.26" lengthAdjust="spacingAndGlyphs">d</text><text x="280.1" y="190.3" font-size="13.28" textLength="7.1" lengthAdjust="spacingAndGlyphs">0</text><text x="287.38" y="185.4" font-size="19.61" textLength="89.66" lengthAdjust="spacingAndGlyphs" clip-path="url(#nb6)">=0.001mm</text>
<text x="244.22" y="215.4" font-size="19.34" textLength="10.26" lengthAdjust="spacingAndGlyphs">d</text><text x="255.4" y="220.3" font-size="13.28" textLength="7.1" lengthAdjust="spacingAndGlyphs">0</text><text x="262.67" y="215.4" font-size="19.34" textLength="90.59" lengthAdjust="spacingAndGlyphs">=0.002mm</text>
<text x="221.22" y="248.6" font-size="19.06" textLength="10.26" lengthAdjust="spacingAndGlyphs">d</text><text x="232.4" y="253.5" font-size="13.28" textLength="7.1" lengthAdjust="spacingAndGlyphs">0</text><text x="239.68" y="248.6" font-size="19.06" textLength="89.15" lengthAdjust="spacingAndGlyphs">=0.005mm</text>
<clipPath id="nb7"><rect x="406.67" y="335.47" width="122.84" height="35.5"/><rect x="406.67" y="370.98" width="37.68" height="19.06"/><rect x="447.89" y="370.98" width="2.88" height="19.06"/><rect x="454.17" y="370.98" width="11.38" height="19.06"/><rect x="469.09" y="370.98" width="2.88" height="19.06"/><rect x="475.37" y="370.98" width="54.14" height="19.06"/></clipPath>
<text x="398.22" y="373.6" font-size="19.06" textLength="10.26" lengthAdjust="spacingAndGlyphs">d</text><text x="409.4" y="378.5" font-size="13.28" textLength="7.1" lengthAdjust="spacingAndGlyphs">0</text><text x="416.67" y="373.6" font-size="19.06" textLength="90.59" lengthAdjust="spacingAndGlyphs" clip-path="url(#nb7)">=0.1, 1mm</text>
<clipPath id="nb8"><rect x="339.87" y="359.22" width="111.53" height="34.98"/><rect x="339.87" y="394.2" width="48.18" height="18.79"/><rect x="391.59" y="394.2" width="2.88" height="18.79"/><rect x="397.85" y="394.2" width="53.55" height="18.79"/></clipPath>
<text x="331.42" y="396.8" font-size="18.79" textLength="10.26" lengthAdjust="spacingAndGlyphs">d</text><text x="342.6" y="401.7" font-size="13.28" textLength="7.1" lengthAdjust="spacingAndGlyphs">0</text><text x="349.87" y="396.8" font-size="18.79" textLength="79.78" lengthAdjust="spacingAndGlyphs" clip-path="url(#nb8)">=0.01mm</text>
<text x="462.55" y="351.9" font-size="20.93" textLength="51.42" lengthAdjust="spacingAndGlyphs">Eq.(7)</text>
</g>
</svg></body></html>
